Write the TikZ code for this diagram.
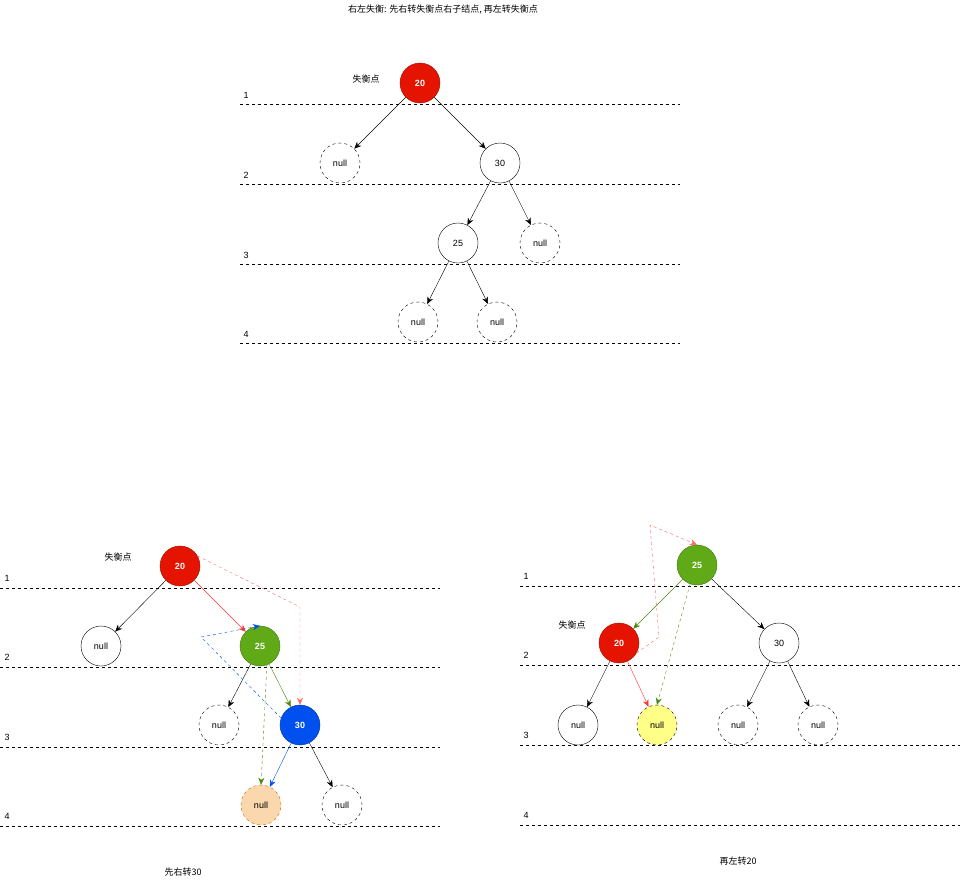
\documentclass[tikz,border=0pt]{standalone}
\usepackage{fontspec}
\setmainfont{Liberation Sans}
\newfontfamily\cjk{Noto Sans CJK SC}
\usetikzlibrary{arrows.meta}
\definecolor{myred}{HTML}{E51400}
\definecolor{mygreen}{HTML}{60A917}
\definecolor{myblue}{HTML}{0050EF}
\definecolor{myorange}{HTML}{FAD7AC}
\definecolor{myyellow}{HTML}{FFFF88}
\begin{document}
\begin{tikzpicture}[x=1pt,y=-1pt,font=\fontsize{9}{10}\selectfont,
 nd/.style={circle,draw,minimum size=40pt,inner sep=0pt},
 dn/.style={nd,dashed},
 rednd/.style={nd,fill=myred,draw=myred!70!black,text=white,font=\fontsize{9}{10}\selectfont\bfseries},
 grnnd/.style={nd,fill=mygreen,draw=mygreen!70!black,text=white,font=\fontsize{9}{10}\selectfont\bfseries},
 blunnd/.style={nd,fill=myblue,draw=myblue!70!black,text=white,font=\fontsize{9}{10}\selectfont\bfseries},
 lvl/.style={dashed,thin},
 ar/.style={-{Stealth[length=7pt,width=6pt]},thin},
 tx/.style={font=\cjk\fontsize{9}{10}\selectfont}]
\useasboundingbox (0,0) rectangle (967,884);
% top
\node[tx] (title) at (443,10) {右左失衡: 先右转失衡点右子结点, 再左转失衡点};
\foreach \y/\l in {104/1,184/2,264/3,343/4}{\draw[lvl] (240,\y) -- (680,\y); \node[anchor=west] (tl\l) at (240,\y-9) {\l};}
\node[tx] (tlab) at (366,79) {失衡点};
\node[rednd] (a20) at (420,83) {20};
\node[dn] (an1) at (340,163) {null};
\node[nd] (a30) at (500,163) {30};
\node[nd] (a25) at (458,243) {25};
\node[dn] (an2) at (540,243) {null};
\node[dn] (an3) at (418,322) {null};
\node[dn] (an4) at (497,322) {null};
\draw[ar] (a20)--(an1); \draw[ar] (a20)--(a30); \draw[ar] (a30)--(a25); \draw[ar] (a30)--(an2);
\draw[ar] (a25)--(an3); \draw[ar] (a25)--(an4);
% bottom left
\foreach \y/\l in {588/1,667/2,747/3,826/4}{\draw[lvl] (0,\y) -- (440,\y); \node[anchor=west] (bl\l) at (1,\y-10) {\l};}
\node[tx] (blab) at (118,557) {失衡点};
\node[tx] (bcap) at (183,872) {先右转30};
\node[rednd] (b20) at (180,566) {20};
\node[nd] (bn1) at (101,646) {null};
\node[grnnd] (b25) at (260,646) {25};
\node[dn] (bn2) at (219,725) {null};
\node[blunnd] (b30) at (300,725) {30};
\node[dn,fill=myorange,draw=orange!80!black] (bn3) at (261,805) {null};
\node[dn] (bn4) at (342,805) {null};
\draw[ar] (b20)--(bn1); \draw[ar,red!80] (b20)--(b25);
\draw[ar,red!60,dashed] (b20.30) -- (300,607) -- (b30.north);
\draw[ar] (b25)--(bn2); \draw[ar,mygreen!80!black] (b25)--(b30);
\draw[ar,mygreen!80!black,dashed] (b25.-70) -- (bn3.north);
\draw[ar,myblue] (b30)--(bn3); \draw[ar] (b30)--(bn4);
\draw[ar,myblue,dashed] (b30.160) -- (201,637) -- (b25.north);
% bottom right
\foreach \y/\l in {586/1,665/2,745/3,825/4}{\draw[lvl] (520,\y) -- (960,\y); \node[anchor=west] (cl\l) at (520,\y-10) {\l};}
\node[tx] (clab) at (572,625) {失衡点};
\node[tx] (ccap) at (738,861) {再左转20};
\node[grnnd] (c25) at (697,565) {25};
\node[rednd] (c20) at (619,643) {20};
\node[nd] (c30) at (779,643) {30};
\node[nd] (cn1) at (578,725) {null};
\node[dn,fill=myyellow] (cn2) at (657,725) {null};
\node[dn] (cn3) at (738,725) {null};
\node[dn] (cn4) at (818,725) {null};
\draw[ar,mygreen!80!black] (c25)--(c20); \draw[ar] (c25)--(c30);
\draw[ar] (c20)--(cn1); \draw[ar,red!80] (c20)--(cn2);
\draw[ar,mygreen!80!black,dashed] (c25.-110) -- (cn2.north);
\draw[ar,red!60,dashed] (c20.-30) -- (659,637) -- (650,525) -- (c25.north);
\draw[ar] (c30)--(cn3); \draw[ar] (c30)--(cn4);
\end{tikzpicture}
\end{document}
